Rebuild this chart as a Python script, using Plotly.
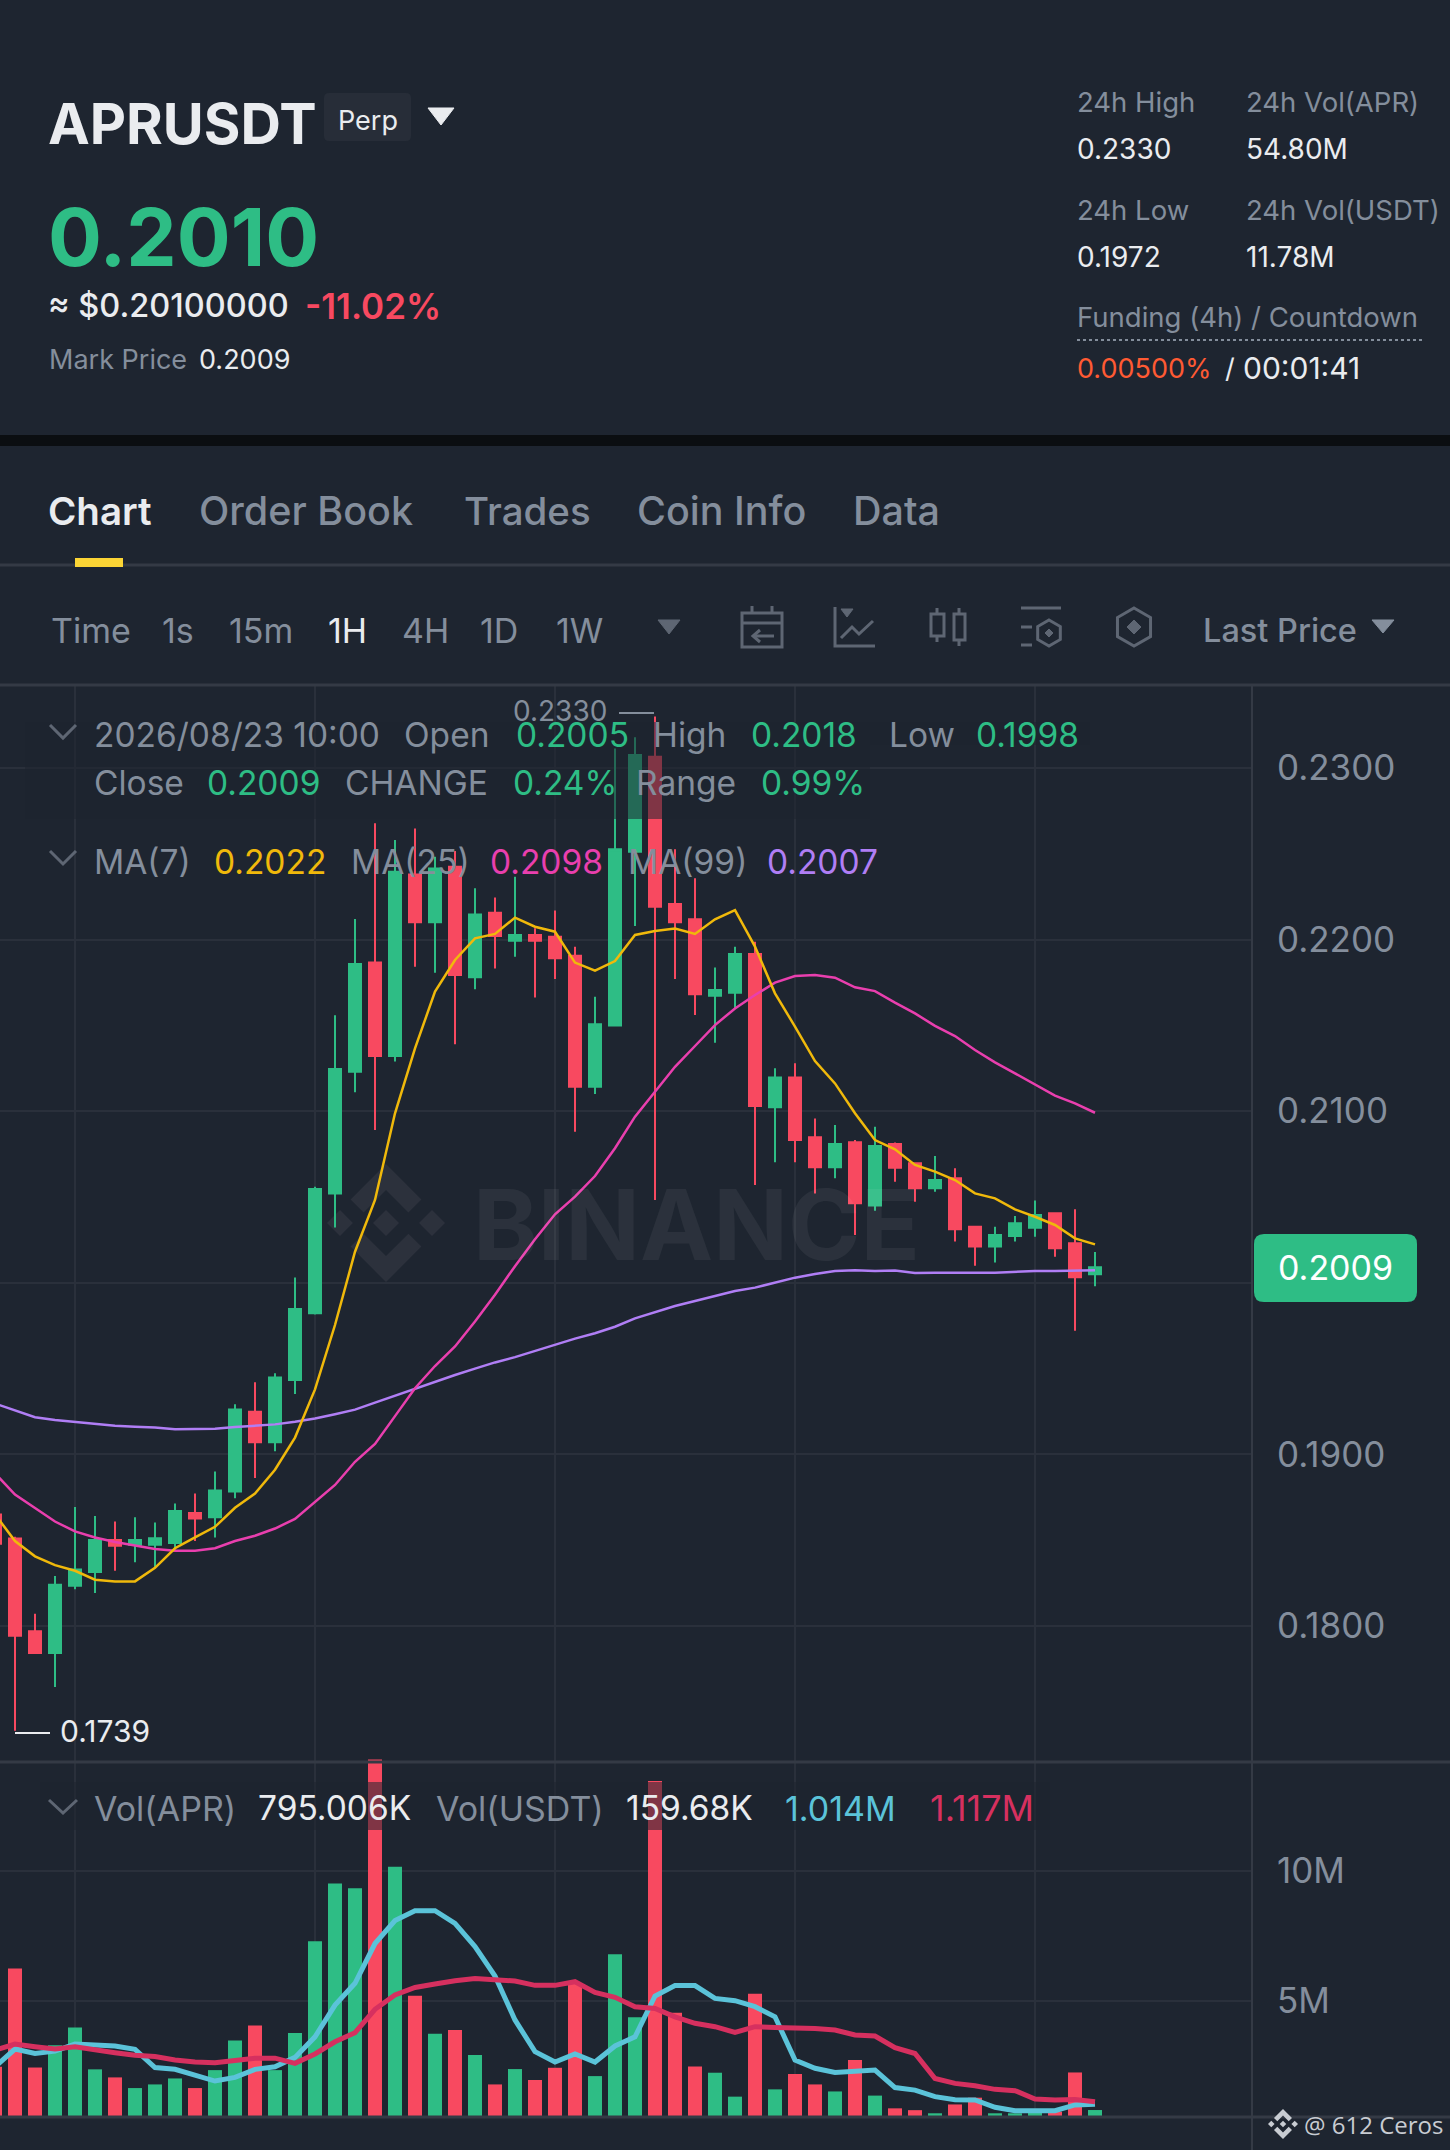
import plotly.graph_objects as go

W, H = 1450, 2150
BG = "#1e2530"
GREEN = "#2ebd85"
RED = "#f84960"
GRAY = "#848e9c"
ICON = "#5e6673"
WHITE = "#eaecef"
LINE = "#343a45"
GRID = "#2a303b"
FONT = "Inter"

# one candle per hour, -1 is the stub cut off by the left edge
candle_idx = list(range(-1, 55))

opens = [
    .1865, .18510, .17970, .17843, .18235, .18314, .18501, .18474, .18474, .18484,
    .18659, .18634, .18784, .19248, .19071, .19434, .19823, .20521, .21230, .21867,
    .21322, .22380, .22101, .22425, .21780, .22157, .21994, .22027, .22017, .21906,
    .21143, .21500, .22512, .23066, .22208, .22118, .21673, .21691, .21916, .21023,
    .21197, .20848, .20673, .20819, .20451, .20809, .20696, .20551, .20609, .20327,
    .20211, .20273, .20321, .20405, .20230, .2005,
]
highs = [
    .1872, .1852, .18072, .18291, .18693, .18641, .18609, .18634, .18603, .18714,
    .18772, .18901, .19292, .19421, .19473, .20031, .20560, .21559, .22120, .22678,
    .22580, .22648, .22483, .22516, .22299, .22246, .22367, .22066, .22169, .21959,
    .21667, .23114, .23179, .2330, .22526, .22357, .21838, .21959, .21988, .21250,
    .21279, .20958, .20919, .20832, .20910, .20817, .20700, .20739, .20667, .20331,
    .20327, .20389, .20479, .20410, .20428, .2018,
]
lows = [
    .1842, .1739, .17843, .17644, .18214, .18193, .18322, .18372, .18343, .18447,
    .18495, .18516, .18745, .18863, .19019, .19352, .19815, .20322, .21110, .20891,
    .21289, .21842, .21807, .21390, .21710, .21831, .21900, .21662, .21770, .20881,
    .21100, .21500, .22079, .20483, .21770, .21561, .21399, .21599, .20570, .20702,
    .20702, .20521, .20609, .20279, .20420, .20589, .20473, .20531, .20240, .20100,
    .20119, .20240, .20269, .20152, .19721, .1998,
]
closes = [
    .1848, .17943, .17843, .18241, .18330, .18501, .18468, .18501, .18512, .18670,
    .18626, .18790, .19261, .19071, .19448, .19848, .20546, .21246, .21858, .21322,
    .22396, .22101, .22415, .21794, .22147, .22021, .22027, .21994, .21891, .21143,
    .21506, .22526, .23076, .22192, .22101, .21681, .21706, .21916, .21030, .21197,
    .20832, .20673, .20809, .20463, .20797, .20671, .20551, .20599, .20312, .20211,
    .20279, .20347, .20395, .20201, .20032, .2009,
]

ma7 = [
    .18651, .18495, .18406, .18355, .18322, .18270, .18260, .18260, .18339, .18453,
    .18516, .18578, .18689, .18772, .18911, .19098, .19379, .19754, .20181, .20483,
    .20988, .21366, .21697, .21881, .22007, .22033, .22128, .22075, .22046, .21866,
    .21819, .21875, .22027, .22050, .22064, .22033, .22118, .22172, .21959, .21687,
    .21493, .21292, .21162, .20988, .20832, .20778, .20687, .20648, .20599, .20521,
    .20492, .20428, .20385, .20337, .20259, .20224,
]
ma25 = [
    .18890, .18766, .18688, .18609, .18551, .18516, .18489, .18468, .18449, .18439,
    .18439, .18453, .18495, .18526, .18568, .18624, .18724, .18822, .18957, .19061,
    .19223, .19386, .19515, .19629, .19775, .19931, .20097, .20254, .20399, .20502,
    .20622, .20784, .20968, .21114, .21259, .21380, .21502, .21599, .21677, .21749,
    .21788, .21794, .21778, .21722, .21700, .21633, .21570, .21497, .21438, .21357,
    .21285, .21221, .21156, .21091, .21046, .20991,
]
ma99 = [
    .19296, .19255, .19217, .19200, .19188, .19175, .19167, .19161, .19157, .19146,
    .19146, .19150, .19159, .19165, .19175, .19190, .19209, .19234, .19261, .19302,
    .19342, .19384, .19425, .19463, .19500, .19536, .19567, .19604, .19642, .19675,
    .19706, .19744, .19793, .19828, .19865, .19894, .19923, .19952, .19972, .20001,
    .20030, .20051, .20069, .20073, .20069, .20071, .20057, .20059, .20061, .20059,
    .20059, .20065, .20069, .20069, .20069, .20073,
]

# volumes in millions of APR
volumes = [
    2.46, 6.24, 2.43, 3.29, 3.97, 2.36, 2.05, 1.64, 1.78, 2.01,
    1.64, 2.33, 3.47, 4.05, 2.33, 3.76, 7.29, 9.51, 9.33, 14.28,
    10.15, 5.19, 3.73, 3.87, 2.91, 1.78, 2.37, 1.95, 2.42, 5.67,
    2.10, 6.79, 4.36, 13.45, 4.54, 2.47, 2.23, 1.31, 5.27, 1.59,
    2.18, 1.78, 1.51, 2.72, 1.35, 0.86, 0.79, 0.67, 1.01, 1.27,
    0.67, 0.67, 0.69, 0.73, 2.24, 0.795,
]
vol_ma_fast = [
    2.46, 3.14, 2.97, 3.06, 3.33, 3.31, 3.26, 3.13, 2.43, 2.36,
    2.14, 1.91, 2.05, 2.36, 2.46, 2.82, 3.61, 4.83, 5.67, 7.20,
    8.08, 8.46, 8.46, 7.97, 7.08, 5.95, 4.26, 3.04, 2.64, 2.95,
    2.64, 3.26, 3.61, 5.18, 5.58, 5.58, 5.09, 5.00, 4.77, 4.38,
    2.72, 2.40, 2.24, 2.29, 2.33, 1.66, 1.56, 1.31, 1.19, 1.18,
    0.90, 0.77, 0.77, 0.77, 0.99, 1.014,
]
vol_ma_slow = [
    3.10, 3.33, 3.23, 3.14, 3.23, 3.10, 3.00, 2.90, 2.85, 2.72,
    2.64, 2.61, 2.69, 2.79, 2.79, 2.59, 2.95, 3.42, 3.77, 4.67,
    5.22, 5.51, 5.64, 5.77, 5.85, 5.82, 5.76, 5.59, 5.59, 5.73,
    5.32, 5.13, 4.77, 4.70, 4.38, 4.13, 4.00, 3.78, 4.00, 3.97,
    3.96, 3.93, 3.87, 3.68, 3.64, 3.19, 2.97, 2.01, 1.82, 1.73,
    1.59, 1.54, 1.22, 1.18, 1.20, 1.117,
]

price_ticks = [0.23, 0.22, 0.21, 0.20, 0.19, 0.18]
price_tick_text = ["0.2300", "0.2200", "0.2100", "", "0.1900", "0.1800"]
vol_ticks = [5, 10]
vol_tick_text = ["5M", "10M"]
grid_candles = [3, 15, 27, 39, 51]


def px(x):
    return x / W


def py(y):
    return 1 - y / H


shapes = []
annotations = []


def label(x, y, text, size=28, color=GRAY, weight=400, anchor="left", family=FONT):
    # annotation boxes carry a little padding, so pull left-anchored text back
    xpos = x - 2 if anchor == "left" else x
    annotations.append(dict(
        x=px(xpos), y=py(y), xref="paper", yref="paper", text=text, showarrow=False,
        xanchor=anchor, yanchor="middle", align="left",
        font=dict(family=family, size=size, color=color, weight=weight),
    ))


def rect(x0, y0, x1, y1, fill, layer="above"):
    shapes.append(dict(type="rect", xref="paper", yref="paper", x0=px(x0), x1=px(x1),
                       y0=py(y0), y1=py(y1), fillcolor=fill, line_width=0, layer=layer))


def hline(x0, x1, y, color=LINE, width=2, dash="solid"):
    shapes.append(dict(type="line", xref="paper", yref="paper", x0=px(x0), x1=px(x1),
                       y0=py(y), y1=py(y), line=dict(color=color, width=width, dash=dash)))


def vline(x, y0, y1, color=LINE, width=2):
    shapes.append(dict(type="line", xref="paper", yref="paper", x0=px(x), x1=px(x),
                       y0=py(y0), y1=py(y1), line=dict(color=color, width=width)))


def poly(points, color=ICON, width=3, fill=None, closed=False, layer="above"):
    d = "M " + " L ".join(f"{px(x):.5f},{py(y):.5f}" for x, y in points)
    if closed:
        d += " Z"
    shapes.append(dict(type="path", xref="paper", yref="paper", path=d, layer=layer,
                       fillcolor=fill if fill else "rgba(0,0,0,0)",
                       line=dict(color=color, width=width)))


def rounded(x0, y0, x1, y1, r, fill):
    d = (f"M {px(x0 + r)},{py(y0)} L {px(x1 - r)},{py(y0)} Q {px(x1)},{py(y0)} {px(x1)},{py(y0 + r)} "
         f"L {px(x1)},{py(y1 - r)} Q {px(x1)},{py(y1)} {px(x1 - r)},{py(y1)} "
         f"L {px(x0 + r)},{py(y1)} Q {px(x0)},{py(y1)} {px(x0)},{py(y1 - r)} "
         f"L {px(x0)},{py(y0 + r)} Q {px(x0)},{py(y0)} {px(x0 + r)},{py(y0)} Z")
    shapes.append(dict(type="path", xref="paper", yref="paper", path=d, fillcolor=fill, line_width=0))


def hexagon(cx, cy, r):
    return [(cx, cy - r), (cx + r * .87, cy - r / 2), (cx + r * .87, cy + r / 2),
            (cx, cy + r), (cx - r * .87, cy + r / 2), (cx - r * .87, cy - r / 2)]


def diamond(cx, cy, r):
    return [(cx, cy - r), (cx + r, cy), (cx, cy + r), (cx - r, cy)]


def logo(cx, cy, R, color, layer):
    f = 0.22 * R
    for dx in (-0.78 * R, 0, 0.78 * R):
        poly(diamond(cx + dx, cy, f), color, 0, color, True, layer)
    for s in (-1, 1):
        poly([(cx, cy + s * R), (cx + .6 * R, cy + s * .4 * R), (cx + .38 * R, cy + s * .18 * R),
              (cx, cy + s * .56 * R), (cx - .38 * R, cy + s * .18 * R), (cx - .6 * R, cy + s * .4 * R)],
             color, 0, color, True, layer)


# header
rect(0, 435, W, 446, "#0b0e11")
label(48, 124, "APRUSDT", 56, WHITE, 700)
rounded(324, 93, 411, 141, 5, "#272d38")
label(338, 120, "Perp", 27, WHITE)
poly([(428, 108), (454, 108), (441, 125)], WHITE, 1, WHITE, True)
label(48, 236, "0.2010", 80, GREEN, 700)
label(48, 306, "≈ $0.20100000", 32.5, WHITE, 500)
label(305, 306, "-11.02%", 35, RED, 600)
label(49, 360, "Mark Price", 27)
label(199, 360, "0.2009", 27, WHITE)

label(1077, 102, "24h High", 27.5)
label(1246, 102, "24h Vol(APR)", 27.5)
label(1077, 149, "0.2330", 28, WHITE)
label(1246, 149, "54.80M", 28, WHITE)
label(1077, 210, "24h Low", 27.5)
label(1246, 210, "24h Vol(USDT)", 27.5)
label(1077, 257, "0.1972", 28, WHITE)
label(1246, 257, "11.78M", 28, WHITE)
label(1077, 317, "Funding (4h) / Countdown", 27.5)
hline(1077, 1422, 340, GRAY, 2, "dot")
label(1077, 368, "0.00500%", 27, "#ff5a33")
label(1225, 368, "/", 27, WHITE)
label(1243, 368, "00:01:41", 30, WHITE)

# tabs
for x, t, c, w, s in [(48, "Chart", WHITE, 600, 38.5), (199, "Order Book", GRAY, 500, 39.5),
                      (464, "Trades", GRAY, 500, 38.5), (637, "Coin Info", GRAY, 500, 39.5),
                      (853, "Data", GRAY, 500, 39.5)]:
    label(x, 511, t, s, c, w)
hline(0, W, 565, LINE, 3)
rect(75, 558, 123, 567, "#fcd535")

# toolbar
for x, t, c in [(51, "Time", GRAY), (162, "1s", GRAY), (229, "15m", GRAY), (328, "1H", WHITE),
                (402, "4H", GRAY), (480, "1D", GRAY), (556, "1W", GRAY)]:
    label(x, 630, t, 34, c)
poly([(658, 620), (680, 620), (669, 634)], ICON, 1, ICON, True)
label(1203, 630, "Last Price", 32.5, GRAY, 500)
poly([(1372, 620), (1394, 620), (1383, 633)], GRAY, 1, GRAY, True)

# toolbar icons
poly([(742, 613), (782, 613), (782, 647), (742, 647)], closed=True)
hline(742, 782, 623, ICON, 3)
vline(752, 606, 613, ICON, 3)
vline(772, 606, 613, ICON, 3)
poly([(774, 636), (753, 636)])
poly([(760, 630), (753, 636), (760, 642)])
poly([(835, 607), (835, 646), (875, 646)])
poly([(841, 609), (853, 609), (847, 617)], ICON, 1, ICON, True)
poly([(841, 638), (852, 627), (859, 634), (873, 621)])
poly([(931, 614), (944, 614), (944, 636), (931, 636)], closed=True)
vline(937, 608, 614, ICON, 3)
vline(937, 636, 642, ICON, 3)
poly([(954, 614), (965, 614), (965, 640), (954, 640)], closed=True)
vline(959, 608, 614, ICON, 3)
vline(959, 640, 646, ICON, 3)
hline(1021, 1061, 608, ICON, 3)
hline(1021, 1032, 627, ICON, 3)
hline(1021, 1032, 645, ICON, 3)
poly(hexagon(1049, 633, 13), closed=True)
poly(diamond(1049, 633, 4), ICON, 1, ICON, True)
poly(hexagon(1134, 627, 19), closed=True)
poly(diamond(1134, 627, 7), ICON, 1, ICON, True)

# chart frame
hline(0, W, 685, LINE, 3)
hline(0, W, 1762, LINE, 3)
hline(0, W, 2117, LINE, 3)
vline(1252, 685, H, LINE, 2)

# watermark sits under the candles
logo(386, 1223, 59, "#2c313c", "below")
label(473, 1224, "BINANCE", 98, "rgba(255,255,255,0.06)", 700)

# legend backdrops dim the marks underneath
rect(25, 745, 870, 819, "rgba(30,37,48,0.55)")
rect(25, 722, 1090, 745, "rgba(30,37,48,0.55)")
rect(40, 1782, 1050, 1830, "rgba(30,37,48,0.55)")

# price legend
poly([(50, 725), (63, 738), (76, 725)], ICON, 3)
label(94, 735, "2026/08/23 10:00", 33.5)
label(404, 735, "Open", 33.5)
label(516, 735, "0.2005", 33.5, GREEN)
label(653, 735, "High", 33.5)
label(751, 735, "0.2018", 33.5, GREEN)
label(889, 735, "Low", 33.5)
label(976, 735, "0.1998", 33.5, GREEN)
label(94, 783, "Close", 33.5)
label(207, 783, "0.2009", 33.5, GREEN)
label(345, 783, "CHANGE", 33.5)
label(513, 783, "0.24%", 33.5, GREEN)
label(636, 783, "Range", 33.5)
label(761, 783, "0.99%", 33.5, GREEN)
poly([(50, 851), (63, 864), (76, 851)], ICON, 3)
label(94, 862, "MA(7)", 33.5)
label(214, 862, "0.2022", 33.5, "#f0b90b")
label(351, 862, "MA(25)", 33.5)
label(490, 862, "0.2098", 33.5, "#e93fae")
label(628, 862, "MA(99)", 33.5)
label(767, 862, "0.2007", 33.5, "#b07ef5")

# high / low markers
label(609, 711, "0.2330", 28, GRAY, anchor="right")
hline(619, 654, 713, GRAY, 2)
hline(15, 50, 1733, WHITE, 2)
label(60, 1731, "0.1739", 30, WHITE)

# last price tag
rounded(1254, 1234, 1417, 1302, 10, GREEN)
label(1335, 1267, "0.2009", 34, "white", anchor="center")

# volume legend
poly([(49, 1800), (63, 1813), (77, 1800)], ICON, 3)
label(94, 1808, "Vol(APR)", 34)
label(258, 1808, "795.006K", 33.5, WHITE)
label(436, 1808, "Vol(USDT)", 34)
label(626, 1808, "159.68K", 33.5, WHITE)
label(785, 1808, "1.014M", 34, "#5bc3d9")
label(930, 1808, "1.117M", 36, "#d6305f")

# corner tag
logo(1283, 2124, 15, "#c8ccd2", "above")
label(1304, 2124, "@ 612 Ceros", 24, "#c8ccd2", family="Open Sans")

fig = go.Figure()
fig.add_trace(go.Candlestick(
    x=candle_idx, open=opens, high=highs, low=lows, close=closes,
    increasing=dict(line=dict(color=GREEN, width=2), fillcolor=GREEN),
    decreasing=dict(line=dict(color=RED, width=2), fillcolor=RED),
    whiskerwidth=0, xaxis="x", yaxis="y", hoverinfo="skip",
))
for values, color in [(ma99, "#b07ef5"), (ma25, "#e93fae"), (ma7, "#f0b90b")]:
    fig.add_trace(go.Scatter(x=candle_idx, y=values, mode="lines", line=dict(color=color, width=2.5),
                             xaxis="x", yaxis="y", hoverinfo="skip"))

bar_colors = [GREEN if c >= o else RED for o, c in zip(opens, closes)]
fig.add_trace(go.Bar(x=candle_idx, y=volumes, marker=dict(color=bar_colors, line_width=0), width=0.7,
                     xaxis="x", yaxis="y2", hoverinfo="skip"))
fig.add_trace(go.Scatter(x=candle_idx, y=vol_ma_fast, mode="lines", line=dict(color="#5bc3d9", width=5),
                         xaxis="x", yaxis="y2", hoverinfo="skip"))
fig.add_trace(go.Scatter(x=candle_idx, y=vol_ma_slow, mode="lines", line=dict(color="#d6305f", width=5),
                         xaxis="x", yaxis="y2", hoverinfo="skip"))

fig.update_layout(
    width=W, height=H, margin=dict(l=0, r=0, t=0, b=0),
    paper_bgcolor=BG, plot_bgcolor=BG, showlegend=False, boxgap=0.4, boxgroupgap=0,
    font=dict(family=FONT, color=GRAY),
    xaxis=dict(domain=[0, 1252 / W], range=[-0.75, 61.85], anchor="y2", rangeslider=dict(visible=False),
               tickmode="array", tickvals=grid_candles, showticklabels=False, ticks="",
               showgrid=True, gridcolor=GRID, gridwidth=2, zeroline=False, showline=False),
    yaxis=dict(domain=[py(1762), py(685)], range=[0.172075, 0.234837], side="right", anchor="x",
               tickmode="array", tickvals=price_ticks, ticktext=price_tick_text,
               tickfont=dict(family=FONT, size=35, color=GRAY), ticks="", ticklabelstandoff=24,
               showgrid=True, gridcolor=GRID, gridwidth=2, zeroline=False, showline=False),
    yaxis2=dict(domain=[py(2117), py(1758)], range=[0.527, 14.335], side="right", anchor="x",
                tickmode="array", tickvals=vol_ticks, ticktext=vol_tick_text,
                tickfont=dict(family=FONT, size=35, color=GRAY), ticks="", ticklabelstandoff=24,
                showgrid=True, gridcolor=GRID, gridwidth=2, zeroline=False, showline=False),
    shapes=shapes, annotations=annotations,
)

fig.write_html("out.html", config=dict(displayModeBar=False),
               post_script="document.body.style.margin='0';document.body.style.background='%s';" % BG)
